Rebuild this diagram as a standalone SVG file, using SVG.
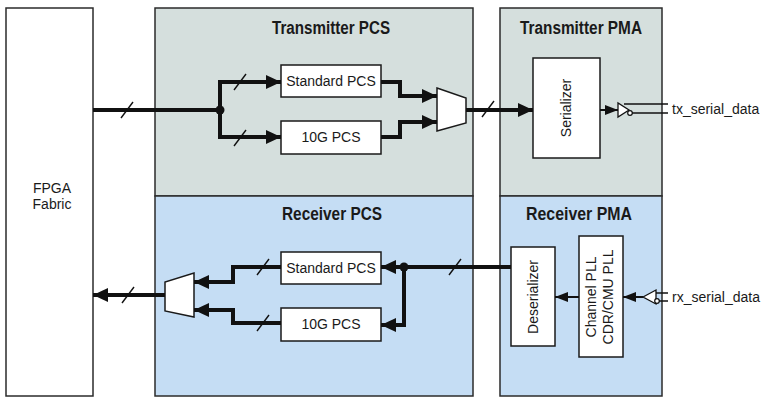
<svg xmlns="http://www.w3.org/2000/svg" width="768" height="404" viewBox="0 0 768 404">
<defs>
<style>
.frame{stroke:#2b2b2b;stroke-width:1.5}
.tx{fill:#d5dfdd}
.rx{fill:#c5ddf4}
.blk{fill:#ffffff;stroke:#1a1a1a;stroke-width:1.5}
.title{font-family:"Liberation Sans",Arial,sans-serif;font-weight:bold;font-size:18px;fill:#1a1a1a;text-anchor:middle}
.lbl{font-family:"Liberation Sans",Arial,sans-serif;font-size:14px;fill:#1a1a1a;text-anchor:middle}
.sig{font-family:"Liberation Sans",Arial,sans-serif;font-size:14px;fill:#1a1a1a}
.bus{fill:none;stroke:#111;stroke-width:4}
.wire{fill:none;stroke:#111;stroke-width:2}
.thin{fill:none;stroke:#111;stroke-width:1.5}
.slash{stroke:#111;stroke-width:1.4}
.mux{fill:#ffffff;stroke:#1a1a1a;stroke-width:1.5}
</style>
<marker id="ab" markerUnits="userSpaceOnUse" markerWidth="16" markerHeight="14" refX="15" refY="7" orient="auto">
<path d="M0,0 L15,7 L0,14 z" fill="#111"/>
</marker>
<marker id="as" markerUnits="userSpaceOnUse" markerWidth="14" markerHeight="12" refX="13" refY="6" orient="auto">
<path d="M0,1 L13,6 L0,11 z" fill="#111"/>
</marker>
</defs>

<g id="fpga-fabric">
<rect x="6" y="8" width="87" height="388" fill="#ffffff" class="frame"/>
<text class="sig" x="52" y="193" text-anchor="middle">FPGA</text>
<text class="sig" x="52" y="209" text-anchor="middle">Fabric</text>
</g>

<g id="transmitter-pcs">
<rect x="155" y="8" width="318" height="188" class="tx frame"/>
<text class="title" x="331" y="34" textLength="118" lengthAdjust="spacingAndGlyphs">Transmitter PCS</text>
</g>
<g id="receiver-pcs">
<rect x="155" y="196" width="318" height="200" class="rx frame"/>
<text class="title" x="332" y="220" textLength="100" lengthAdjust="spacingAndGlyphs">Receiver PCS</text>
</g>
<g id="transmitter-pma">
<rect x="500" y="8" width="162" height="188" class="tx frame"/>
<text class="title" x="581" y="34" textLength="122" lengthAdjust="spacingAndGlyphs">Transmitter PMA</text>
</g>
<g id="receiver-pma">
<rect x="500" y="196" width="162" height="200" class="rx frame"/>
<text class="title" x="579" y="220" textLength="106" lengthAdjust="spacingAndGlyphs">Receiver PMA</text>
</g>

<g id="tx-standard-pcs">
<rect x="281" y="65" width="100" height="32" class="blk"/>
<text class="lbl" x="331" y="86">Standard PCS</text>
</g>
<g id="tx-10g-pcs">
<rect x="281" y="121" width="100" height="33" class="blk"/>
<text class="lbl" x="331" y="142">10G PCS</text>
</g>
<g id="tx-mux">
<polygon points="437,88 466,98 466,123 437,131" class="mux"/>
</g>
<g id="serializer">
<rect x="533" y="58" width="67" height="100" class="blk"/>
<text class="lbl" transform="translate(571,108) rotate(-90)">Serializer</text>
</g>
<g id="tx-buffer">
<polygon points="618,103 618,117 629,110" fill="#ffffff" stroke="#111" stroke-width="1.3"/>
<circle cx="630" cy="113" r="2.3" fill="#ffffff" stroke="#111" stroke-width="1.2"/>
<text class="sig" x="672" y="114">tx_serial_data</text>
</g>

<g id="rx-standard-pcs">
<rect x="281" y="252" width="100" height="32" class="blk"/>
<text class="lbl" x="331" y="273">Standard PCS</text>
</g>
<g id="rx-10g-pcs">
<rect x="281" y="308" width="100" height="33" class="blk"/>
<text class="lbl" x="331" y="329">10G PCS</text>
</g>
<g id="rx-mux">
<polygon points="194,273 194,317 165,311 165,282" class="mux"/>
</g>
<g id="deserializer">
<rect x="511" y="247" width="44" height="99" class="blk"/>
<text class="lbl" transform="translate(538,297) rotate(-90)">Deserializer</text>
</g>
<g id="cdr-pll">
<rect x="579" y="236" width="44" height="121" class="blk"/>
<text class="lbl" transform="translate(596,297) rotate(-90)">Channel PLL</text>
<text class="lbl" transform="translate(613,297) rotate(-90)">CDR/CMU PLL</text>
</g>
<g id="rx-buffer">
<polygon points="643,297 656,290 656,304" fill="#ffffff" stroke="#111" stroke-width="1.3"/>
<circle cx="657" cy="301" r="2.3" fill="#ffffff" stroke="#111" stroke-width="1.2"/>
<text class="sig" x="672" y="302">rx_serial_data</text>
</g>

<g id="connectors">
<path class="bus" d="M93,110 H220"/>
<circle cx="220" cy="110" r="4.5" fill="#111"/>
<path class="bus" d="M220,110 V82 H281" marker-end="url(#ab)"/>
<path class="bus" d="M220,110 V137 H281" marker-end="url(#ab)"/>
<path class="bus" d="M381,82 H400 V96 H437" marker-end="url(#ab)"/>
<path class="bus" d="M381,137 H400 V122 H437" marker-end="url(#ab)"/>
<path class="bus" d="M466,110 H533" marker-end="url(#ab)"/>
<path class="wire" d="M600,110 H618" marker-end="url(#as)"/>
<path class="thin" d="M624,104 H668"/>
<path class="thin" d="M632,113 H668"/>

<path class="bus" d="M511,267 H381" marker-end="url(#ab)"/>
<circle cx="404" cy="267" r="4.5" fill="#111"/>
<path class="bus" d="M404,267 V325 H381" marker-end="url(#ab)"/>
<path class="bus" d="M281,267 H233 V282 H194" marker-end="url(#ab)"/>
<path class="bus" d="M281,323 H233 V310 H194" marker-end="url(#ab)"/>
<path class="bus" d="M165,295 H93" marker-end="url(#ab)"/>
<path class="wire" d="M579,297 H555" marker-end="url(#as)"/>
<path class="wire" d="M643,297 H623" marker-end="url(#as)"/>
<path class="thin" d="M656,293 H668"/>
<path class="thin" d="M659,301 H668"/>

<g id="bus-width-marks">
<line class="slash" x1="121" y1="118" x2="133" y2="102"/>
<line class="slash" x1="234" y1="90" x2="246" y2="74"/>
<line class="slash" x1="234" y1="146" x2="246" y2="130"/>
<line class="slash" x1="482" y1="117" x2="494" y2="101"/>
<line class="slash" x1="449" y1="275" x2="461" y2="259"/>
<line class="slash" x1="257" y1="275" x2="269" y2="259"/>
<line class="slash" x1="257" y1="331" x2="269" y2="315"/>
<line class="slash" x1="122" y1="303" x2="134" y2="287"/>
</g>
</g>
</svg>
